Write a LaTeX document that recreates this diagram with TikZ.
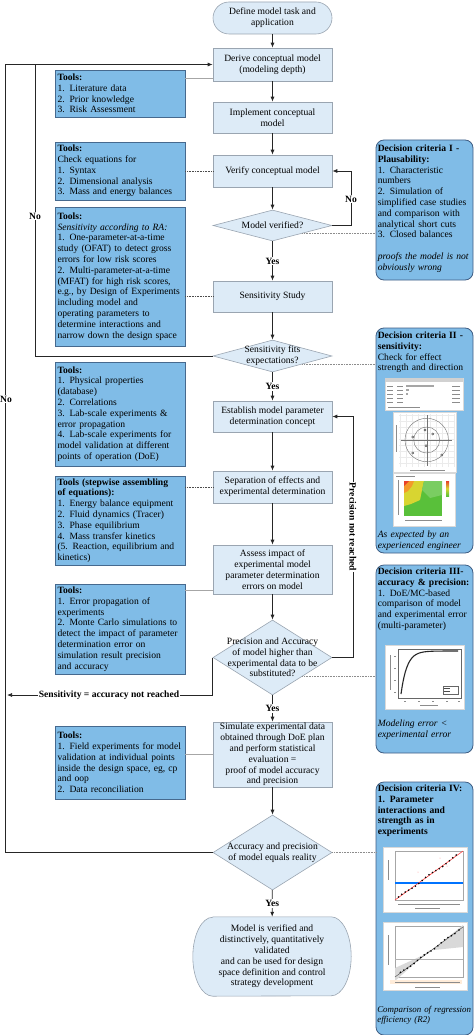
\documentclass[tikz,border=0pt]{standalone}
\usepackage{fontspec}
\setmainfont{Liberation Serif}
\usetikzlibrary{arrows.meta,shapes.geometric,calc,backgrounds}
\definecolor{boxfill}{HTML}{DDEBF7}
\definecolor{boxline}{HTML}{9AA5B1}
\definecolor{toolfill}{HTML}{80BCE7}
\definecolor{toolline}{HTML}{46698E}
\definecolor{dcline}{HTML}{3F5E84}
\definecolor{heatred}{HTML}{E8402A}
\definecolor{heatorange}{HTML}{F39A2B}
\definecolor{heatyellow}{HTML}{D8D531}
\definecolor{heatgreen}{HTML}{59C03A}
\newcommand{\fsz}{\fontsize{9.6}{10.8}\selectfont}
\newcommand{\fszs}{\fontsize{8.9}{10.8}\selectfont}
\tikzset{
  mainbox/.style={draw=boxline, fill=boxfill, line width=0.6pt, minimum width=119pt, inner sep=0pt, align=center, font=\fsz},
  termbox/.style={mainbox, rounded corners=16pt},
  diabox/.style={shape=diamond, draw=boxline, fill=boxfill, line width=0.6pt, inner sep=0pt, minimum width=119pt},
  txt/.style={align=center, font=\fsz, inner sep=0pt},
  toolbox/.style={draw=toolline, fill=toolfill, line width=0.7pt, minimum width=130pt, text width=125pt, inner xsep=2.5pt, inner ysep=0pt, align=left, font=\fsz},
  dcbox/.style={draw=dcline, fill=toolfill, line width=0.8pt, rounded corners=8pt, minimum width=97pt, inner sep=0pt},
  dctext/.style={anchor=north west, text width=95pt, inner sep=0pt, align=left, font=\fsz},
  arr/.style={-{Latex[length=5pt,width=4pt]}, line width=0.75pt, draw=black!85},
  plain/.style={line width=0.75pt, draw=black!85},
  lab/.style={fill=white, inner sep=1pt, font=\fsz\bfseries},
  greyconn/.style={draw=black!35, line width=0.6pt},
  dotconn/.style={draw=black!70, line width=0.6pt, densely dotted},
  dcconn/.style={draw=black!45, line width=0.6pt, densely dotted},
  img/.style={fill=white, draw=black!15, line width=0.3pt},
  tick/.style={draw=black!45, line width=0.4pt},
}
\begin{document}
\begin{tikzpicture}[x=1pt,y=1pt]
\useasboundingbox (0,0) rectangle (474,-1035);

% ---------------- main column ----------------
\node[termbox, minimum height=32pt] (def) at (272.5,-18) {Define model task and\\application};
\node[mainbox, minimum height=33pt] (der) at (272.5,-64.5) {Derive conceptual model\\(modeling depth)};
\node[mainbox, minimum height=31pt] (imp) at (272.5,-117.5) {Implement conceptual\\model};
\node[mainbox, minimum height=32pt] (ver) at (272.5,-171) {Verify conceptual model};
\node[diabox, minimum height=31pt] (d1) at (272.5,-225.5) {};
\node[txt] (d1t) at (d1) {Model verified?};
\node[mainbox, minimum height=31pt] (sen) at (272.5,-296.5) {Sensitivity Study};
\node[diabox, minimum height=32pt] (d2) at (272.5,-356) {};
\node[txt] (d2t) at (d2) {Sensitivity fits\\expectations?};
\node[mainbox, minimum height=31pt] (est) at (272.5,-416.5) {Establish model parameter\\determination concept};
\node[mainbox, minimum height=32pt] (sep) at (272.5,-487) {Separation of effects and\\experimental determination};
\node[mainbox, minimum height=49pt] (ass) at (272.5,-569.5) {Assess impact of\\experimental model\\parameter determination\\errors on model};
\node[diabox, minimum height=75pt] (d3) at (272.5,-657.5) {};
\node[txt] (d3t) at (d3) {Precision and Accuracy\\of model higher than\\experimental data to be\\substituted?};
\node[mainbox, minimum height=65pt] (sim) at (272.5,-754.5) {Simulate experimental data\\obtained through DoE plan\\and perform statistical\\evaluation =\\proof of model accuracy\\and precision};
\node[diabox, minimum height=75pt] (d4) at (272.5,-852.5) {};
\node[txt] (d4t) at (d4) {Accuracy and precision\\of model equals reality};
\node[txt, minimum width=158pt, minimum height=79pt] (fin) at (272,-956.5) {Model is verified and\\distinctively, quantitatively\\validated\\and can be used for design\\space definition and control\\strategy development};
\begin{pgfonlayer}{background}
\draw[draw=boxline, fill=boxfill, line width=0.6pt]
  ($(fin.north west)+(20,0)$) -- ($(fin.north east)+(-20,0)$)
  arc[start angle=90, end angle=-90, x radius=20, y radius=39.5]
  -- ($(fin.south west)+(20,0)$)
  arc[start angle=270, end angle=90, x radius=20, y radius=39.5] -- cycle;
\end{pgfonlayer}

% ---------------- tools boxes ----------------
\node[toolbox, minimum height=47pt] (t1) at (120,-93.5) {\textbf{Tools:}\\1. Literature data\\2. Prior knowledge\\3. Risk Assessment};
\node[toolbox, minimum height=58pt] (t2) at (120,-171) {\textbf{Tools:}\\Check equations for\\1. Syntax\\2. Dimensional analysis\\3. Mass and energy balances};
\node[toolbox, minimum height=139pt] (t3) at (120,-276.5) {\textbf{Tools:}\\\textit{Sensitivity according to RA:}\\1. One-parameter-at-a-time\\study (OFAT) to detect gross\\errors for low risk scores\\2. Multi-parameter-at-a-time\\(MFAT) for high risk scores,\\e.g., by Design of Experiments\\including model and\\operating parameters to\\determine interactions and\\narrow down the design space};
\node[toolbox, minimum height=104pt] (t4) at (120,-414) {\textbf{Tools:}\\1. Physical properties\\(database)\\2. Correlations\\3. Lab-scale experiments \&\\error propagation\\4. Lab-scale experiments for\\model validation at different\\points of operation (DoE)};
\node[toolbox, minimum height=89pt] (t5) at (120,-520.5) {\textbf{Tools (stepwise assembling}\\\textbf{of equations):}\\1. Energy balance equipment\\2. Fluid dynamics (Tracer)\\3. Phase equilibrium\\4. Mass transfer kinetics\\(5. Reaction, equilibrium and\\kinetics)};
\node[toolbox, minimum height=90pt] (t6) at (120,-629) {\textbf{Tools:}\\1. Error propagation of\\experiments\\2. Monte Carlo simulations to\\detect the impact of parameter\\determination error on\\simulation result precision\\and accuracy};
\node[toolbox, minimum height=73pt] (t7) at (120,-762.5) {\textbf{Tools:}\\1. Field experiments for model\\validation at individual points\\inside the design space, eg, cp\\and oop\\2. Data reconciliation};

% ---------------- decision criteria boxes ----------------
\node[dcbox, minimum height=140pt] (dc1) at (424.5,-210) {};
\node[dctext] (dc1t) at ([xshift=2pt,yshift=-5pt]dc1.north west) {\textbf{Decision criteria I -}\\\textbf{Plausability:}\\1. Characteristic\\numbers\\2. Simulation of\\simplified case studies\\and comparison with\\analytical short cuts\\3. Closed balances\\[10.8pt]\textit{proofs the model is not}\\\textit{obviously wrong}};

\node[dcbox, minimum height=225pt] (dc2) at (424.5,-440.5) {};
\node[dctext] (dc2t) at ([xshift=2pt,yshift=-4pt]dc2.north west) {\textbf{Decision criteria II -}\\\textbf{sensitivity:}\\Check for effect\\strength and direction};
\node[dctext, anchor=south west] (dc2b) at ([xshift=2pt,yshift=3pt]dc2.south west) {\textit{As expected by an}\\\textit{experienced engineer}};

\node[dcbox, minimum height=188pt] (dc3) at (424.5,-659) {};
\node[dctext] (dc3t) at ([xshift=2pt,yshift=-3pt]dc3.north west) {\textbf{Decision criteria III-}\\\textbf{accuracy \& precision:}\\1. DoE/MC-based\\comparison of model\\and experimental error\\(multi-parameter)};
\node[dctext] (dc3b) at ([xshift=2pt,yshift=-155pt]dc3.north west) {\textit{Modeling error <}\\\textit{experimental error}};

\node[dcbox, minimum height=253pt] (dc4) at (424.5,-908.5) {};
\node[dctext] (dc4t) at ([xshift=2pt,yshift=-3pt]dc4.north west) {\textbf{Decision criteria IV:}\\\textbf{1. Parameter}\\\textbf{interactions and}\\\textbf{strength as in}\\\textbf{experiments}};
\node[dctext, font=\fszs] (dc4b) at ([xshift=1.5pt,yshift=-224pt]dc4.north west) {\mbox{\textit{Comparison of regression}}\\\mbox{\textit{efficiency (R2)}}};

% ---------------- mini pictures in DC II ----------------
% table screenshot
\path[img] (385,-378) rectangle (463,-410);
\fill[black!18] (385.3,-378.3) rectangle (462.7,-382);
\foreach \yy in {386,390,394,398,402}{
  \draw[tick] (387,-\yy) -- (393,-\yy);
  \draw[tick] (397,-\yy) -- (403,-\yy);
  \draw[tick] (452,-\yy) -- (460,-\yy);
}
\fill[black!35] (406,-385) rectangle (434,-387);
\fill[black!35] (406,-389) rectangle (409,-391);
\fill[black!35] (406,-393) rectangle (408,-395);
\draw[tick] (388,-407) -- (420,-407);
% circle plot
\path[img] (393,-412) rectangle (456,-472);
\foreach \xx in {400,406,...,454}{\draw[black!8, line width=0.3pt] (\xx,-414) -- (\xx,-467);}
\foreach \yy in {415,421,...,465}{\draw[black!8, line width=0.3pt] (399,-\yy) -- (455,-\yy);}
\draw[black!55, line width=0.4pt] (426.7,-440) circle[radius=21.7];
\draw[black!55, line width=0.4pt] (426.7,-440) circle[radius=13];
\draw[black!55, line width=0.4pt] (401,-440) -- (452,-440);
\draw[black!55, line width=0.4pt] (426.7,-415) -- (426.7,-466);
\foreach \px/\py in {412.7/437, 425/430, 432.7/434, 426/445.7, 412.7/453, 441.7/455}{
  \draw[black!70, fill=black!35, line width=0.3pt] (\px,-\py) circle[radius=1.2];
}
\draw[tick] (396,-425) -- (396,-452);
\draw[tick] (410,-470) -- (445,-470);
% heat map
\path[img] (393,-473) rectangle (455,-526);
\fill[heatgreen] (404,-481) rectangle (442,-516);
\fill[heatyellow] (404,-481) -- (424,-481) -- (422,-490) -- (420,-500) -- (411,-504) -- (404,-506) -- cycle;
\fill[heatorange] (404,-481) -- (414,-481) -- (412,-486) -- (408,-491) -- (404,-493) -- cycle;
\fill[heatred] (404,-481) -- (409,-481) -- (404,-486) -- cycle;
\fill[heatgreen!80!white] (424,-481) -- (442,-481) -- (442,-495) -- (430,-498) -- (422,-490) -- cycle;
\shade[top color=heatred, bottom color=heatgreen, middle color=heatyellow] (446,-481) rectangle (449,-496);
\draw[tick] (398,-480) -- (398,-515);
\draw[tick] (405,-520) -- (442,-520);
\draw[tick] (396,-476) -- (415,-476);

% ---------------- mini picture in DC III ----------------
\path[img] (385,-645) rectangle (464,-709);
\draw[black!60, line width=0.4pt] (398,-649) rectangle (461,-698);
\draw[black!85, line width=1.1pt, domain=0:57, samples=40, smooth] plot ({401+\x}, {-651-43*exp(-\x/6)});
\draw[black!60, fill=white, line width=0.3pt] (443,-686) rectangle (458,-694);
\draw[black!70, line width=0.4pt] (444,-688.5) -- (450,-688.5);
\draw[black!70, line width=0.4pt] (444,-691.5) -- (450,-691.5);
\draw[tick] (390,-655) -- (390,-690);
\draw[tick] (420,-705) -- (438,-705);
\foreach \yy in {656,668,680,692}{\draw[tick] (394,-\yy) -- (396,-\yy);}
\foreach \xx in {404,418,432,446,458}{\draw[tick] (\xx,-701) -- (\xx+2,-701);}

% ---------------- mini pictures in DC IV ----------------
\path[img] (383,-847) rectangle (467,-912);
\draw[black!35, line width=0.3pt] (395,-851) rectangle (463,-900);
\draw[blue!55!cyan, line width=1.6pt] (395,-883) -- (463,-883);
\draw[red!75, line width=0.6pt] (395,-900) -- (463,-851);
\foreach \t in {0.05,0.1,...,0.95}{
  \fill[black] ({395+68*\t},{-900+49*\t+0.8*sin(900*\t)}) circle[radius=0.9];
}
\foreach \px/\py in {440/858, 447/866, 418/872, 455/856}{\fill[red!40] (\px,-\py) circle[radius=0.5];}
\draw[tick] (388,-860) -- (388,-880);
\draw[tick] (398,-904) -- (460,-904);
\draw[tick] (415,-908) -- (440,-908);

\path[img] (383,-922) rectangle (467,-990);
\draw[black!35, line width=0.3pt] (395,-926) rectangle (463,-977);
\fill[black!15] (395,-968) -- (429,-952.5) -- (463,-925) -- (463,-947) -- (429,-950.5) -- (395,-981) -- cycle;
\draw[black!30, line width=0.3pt] (395,-959) -- (463,-959);
\draw[black!65, line width=0.5pt] (395,-977) -- (463,-927);
\foreach \t in {0.08,0.13,...,0.9}{
  \fill[black] ({395+68*\t},{-977+50*\t+0.7*sin(1100*\t)}) circle[radius=0.9];
}
\fill[black] (459,-930) circle[radius=0.9];
\fill[orange!15] (390,-980) rectangle (462,-984);
\draw[tick] (395,-982) -- (460,-982);
\draw[tick] (415,-987) -- (440,-987);
\draw[tick] (388,-935) -- (388,-965);

% ---------------- main flow connectors ----------------
\draw[arr] (def) -- (der);
\draw[arr] (der) -- (imp);
\draw[arr] (imp) -- (ver);
\draw[arr] (ver) -- (d1);
\draw[arr] (d1) -- node[lab] (y1) {Yes} (sen);
\draw[arr] (sen) -- (d2);
\draw[arr] (d2) -- node[lab] (y2) {Yes} (est);
\draw[arr] (est) -- (sep);
\draw[arr] (sep) -- (ass);
\draw[arr] (ass) -- (d3);
\draw[arr] (d3) -- node[lab] (y3) {Yes} (sim);
\draw[arr] (sim) -- (d4);
\draw[arr] (d4) -- node[lab] (y4) {Yes} (fin);

% ---------------- loop-back connectors ----------------
\coordinate (xa) at (35,0);
\coordinate (xb) at (5,0);
\coordinate (xc) at (351,0);
\coordinate (xd) at (353,0);
\coordinate (sx) at (7,-695);
\draw[arr] (d1.east) -- (d1.east -| xc) |- (ver.east);
\node[lab] (no1) at (351,-199) {No};
\draw[plain] (d4.west) -- (d4.west -| xb) |- (der.west -| xa);
\draw[arr] (d2.west) -- (d2.west -| xa) |- (der.west);
\node[lab] (no2) at (35,-216) {No};
\node[lab] (no3) at (6,-399) {No};
\draw[arr] (d3.east) -- (d3.east -| xd) |- (est.east);
\node[lab, rotate=-90] (pnr) at (353,-527) {Precision not reached};
\draw[arr] (d3.west) |- (sx);
\node[lab] (san) at (109,-695) {Sensitivity = accuracy not reached};

% ---------------- tool / criteria connectors ----------------
\draw[greyconn] (t1.east |- 0,-78) -- (der.west |- 0,-78);
\draw[dotconn] (t2.east) -- (ver.west);
\draw[dotconn] (t3.east |- sen.west) -- (sen.west);
\draw[dotconn] (t5.east |- sep.west) -- (sep.west);
\draw[greyconn] (t6.east |- 0,-590) -- (ass.west |- 0,-590);
\draw[greyconn] (t7.east |- sim.west) -- (sim.west);
\draw[dcconn] (d1.south east) -- (d1.south east -| dc1.west);
\draw[dcconn] (d2.south east) -- (d2.south east -| dc2.west);
\draw[dcconn] (d3.south east) -- (d3.south east -| dc3.west);
\draw[dcconn] (d4.east) -- (d4.east -| dc4.west);
\end{tikzpicture}
\end{document}
